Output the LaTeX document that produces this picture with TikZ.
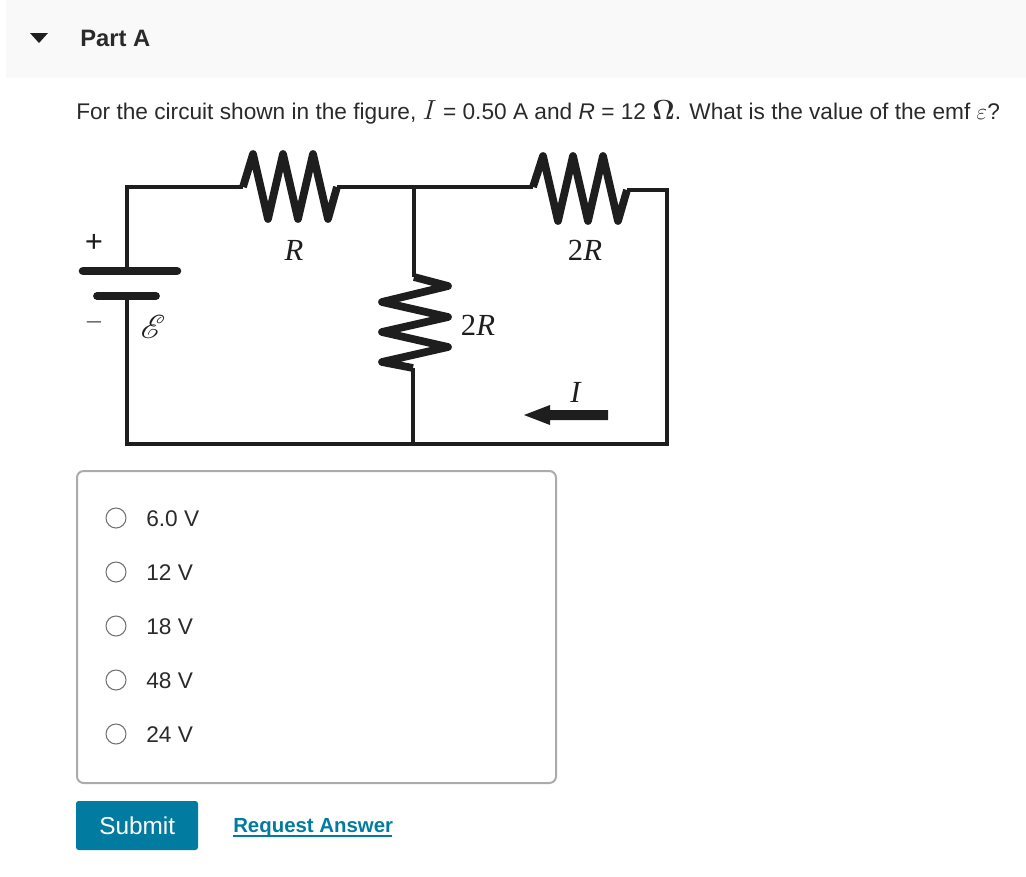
\documentclass[tikz,border=0pt]{standalone}
\usepackage{fontspec}
\usepackage{amsmath}
\usepackage{mathrsfs}
\setmainfont{Liberation Sans}
\newfontfamily\figfont{Liberation Serif}
\definecolor{headbg}{HTML}{F9F9F9}
\definecolor{teal}{HTML}{027BA1}
\definecolor{boxgray}{HTML}{ABABAB}
\definecolor{wirecol}{HTML}{1E1E1E}
\definecolor{inktext}{HTML}{2A2A2A}
\tikzset{
	wire/.style={draw=wirecol,line width=2.4pt,line join=miter},
	plate/.style={draw=wirecol,line width=6.4pt,line cap=round},
	zigzag/.style={draw=wirecol,line width=5.8pt,line join=round},
	figlabel/.style={font=\figfont\fontsize{23}{26}\selectfont,text=wirecol,inner sep=0pt},
	pagetext/.style={anchor=base west,inner sep=0pt,text=inktext},
	radio/.style={circle,draw=black!55,line width=0.8pt,fill=white,minimum size=15pt,inner sep=0pt},
}
\begin{document}
\begin{tikzpicture}[x=0.75pt,y=-0.75pt,font=\fontsize{17}{20}\selectfont]
\useasboundingbox (0,0) rectangle (1026,876);
\fill[headbg] (6,0) rectangle (1026,78);
\fill[black!88] (30,33)--(48,33)--(39,43)--cycle;
\node[pagetext,font=\bfseries\fontsize{17.8}{20}\selectfont] (title) at (80,46) {Part A};
\node[pagetext] (question) at (76,119) {For the circuit shown in the figure, {\fontsize{21}{22}\selectfont$I$} = 0.50 A and \textit{R} = 12 {\fontsize{21}{22}\selectfont$\boldsymbol{\Omega}$}. What is the value of the emf {\fontsize{18}{20}\selectfont$\varepsilon$}?};
\coordinate (tl) at (127,187);
\coordinate (bl) at (127,444);
\coordinate (tm) at (414,187);
\coordinate (bm) at (413,444);
\coordinate (tr) at (667,190);
\coordinate (br) at (667,444);
\coordinate (plus) at (127,271);
\coordinate (minus) at (127,296);
\coordinate (ra) at (243,187);
\coordinate (rb) at (337,187);
\coordinate (sa) at (533,187);
\coordinate (sb) at (627,190);
\coordinate (pa) at (414,277);
\coordinate (pb) at (413,368);
\draw[wire] (plus)--(tl)--(ra) (rb)--(sa) (tm)--(pa) (pb)--(bm);
\draw[wire,line width=2.8pt] (minus)--(bl)--(br)--(tr)--(sb);
\draw[plate] (83,271)--(177,271);
\draw[plate,line width=5.8pt] (97,296)--(156,296);
\draw[zigzag] (ra)--(253,154)--(268,219)--(283,154)--(298,219)--(313,154)--(328,219)--(rb);
\draw[zigzag] (sa)--(543,156)--(558,221)--(573,156)--(588,221)--(603,156)--(618,221)--(sb);
\draw[zigzag] (pa)--(448,286)--(382,302)--(448,317)--(382,332)--(448,347)--(382,362)--(pb);
\fill[wirecol] (608,410)--(550,410)--(550,405)--(524,415)--(550,425)--(550,420)--(608,420)--cycle;
\node[figlabel] (rlabel) at (294,250) {\textit{R}};
\node[figlabel] (slabel) at (585,250) {2\textit{R}};
\node[figlabel] (plabel) at (478,325) {2\textit{R}};
\node[figlabel] (ilabel) at (576,392) {\textit{I}};
\node[figlabel,font=\figfont\bfseries\fontsize{24}{26}\selectfont] (pluslabel) at (94,243) {+};
\node[figlabel,text=black!60] (minuslabel) at (94,327) {\char"2212};
\node[figlabel,font=\fontsize{30}{32}\selectfont] (emflabel) at (153,327) {$\mathscr{E}$};
\draw[boxgray,line width=1.5pt,rounded corners=5pt] (77,471) rectangle (556,783);
\foreach \name/\ypos/\val in {a/518/6.0 V,b/572/12 V,c/626/18 V,d/680/48 V,e/734/24 V}{
	\node[radio] (radio\name) at (116,\ypos) {};
	\node[pagetext,font=\fontsize{17}{20}\selectfont] (option\name) at (146,\ypos+8) {\val};
}
\fill[teal,rounded corners=2pt] (76,801) rectangle (198,850);
\node[pagetext,text=white,font=\fontsize{18.3}{20}\selectfont] (submit) at (99,834) {Submit};
\node[pagetext,text=teal,font=\bfseries\fontsize{15.3}{18}\selectfont] (request) at (233,832) {Request Answer};
\draw[teal,line width=1.4pt] (233,836)--(392,836);
\end{tikzpicture}
\end{document}
